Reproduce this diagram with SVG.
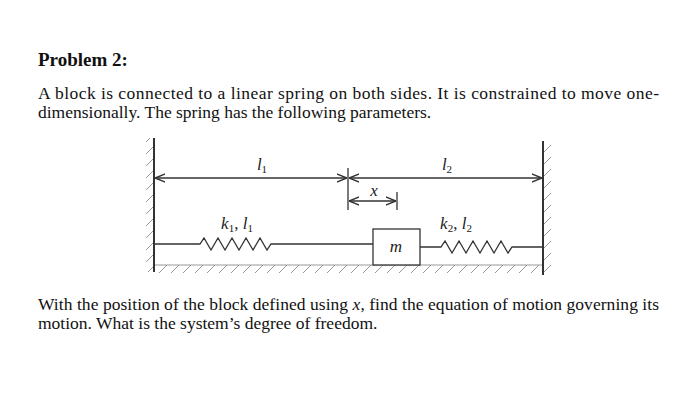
<svg xmlns="http://www.w3.org/2000/svg" width="700" height="401" viewBox="0 0 700 401">
<defs>
<style>
.t{font-family:"Liberation Serif",serif;font-size:17.5px;fill:#111}
.m{font-family:"Liberation Serif",serif;font-style:italic;font-size:17px;fill:#222}
.w{stroke:#333;stroke-width:2;fill:none}
.l{stroke:#333;stroke-width:1.3;fill:none}
.h{stroke:#999;stroke-width:1}
</style>
<marker id="a" viewBox="0 0 10 10" refX="10" refY="5" markerWidth="8" markerHeight="8" orient="auto-start-reverse"><path d="M0,1 L10,5 L0,9" fill="none" stroke="#333" stroke-width="1.5"/></marker>
<pattern id="hl" width="12" height="12" patternUnits="userSpaceOnUse"><path d="M0,12 L12,0" class="h"/></pattern>
</defs>
<rect width="700" height="401" fill="#fff"/>
<text x="38" y="66" style="font-family:'Liberation Serif',serif;font-weight:bold;font-size:19px;fill:#111">Problem 2:</text>
<text class="t" x="38" y="99" textLength="621" lengthAdjust="spacing">A block is connected to a linear spring on both sides.  It is constrained to move one-</text>
<text class="t" x="38" y="118">dimensionally.  The spring has the following parameters.</text>
<text class="t" x="38" y="310" textLength="621" lengthAdjust="spacing">With the position of the block defined using <tspan font-style="italic">x</tspan>, find the equation of motion governing its</text>
<text class="t" x="38" y="329">motion.  What is the system’s degree of freedom.</text>
<g id="ground"><rect x="154" y="265" width="389" height="8" fill="url(#hl)"/><line x1="154" y1="265" x2="543" y2="265" class="h"/></g>
<g id="leftwall"><rect x="146" y="138" width="8" height="134" fill="url(#hl)"/><line x1="154" y1="138" x2="154" y2="272" class="w"/></g>
<g id="rightwall"><rect x="543" y="141" width="8" height="134" fill="url(#hl)"/><line x1="543" y1="141" x2="543" y2="275" class="w"/></g>
<g id="block"><rect x="373" y="229" width="47" height="36" fill="#fff" stroke="#333" stroke-width="1.3"/><text class="m" x="396" y="252" text-anchor="middle">m</text></g>
<g id="connectors">
<polyline class="l" points="154,244 200,244 204,238 211,250 218,238 225,250 232,238 239,250 246,238 253,250 260,238 267,250 271,244 373,244"/>
<polyline class="l" points="420,247 441,247 445,241 452,253 459,241 466,253 473,241 480,253 487,241 494,253 501,241 508,253 512,247 543,247"/>
<line x1="348" y1="168" x2="348" y2="210" class="l"/>
<line x1="397" y1="192" x2="397" y2="210" class="l"/>
<line x1="155" y1="178" x2="347" y2="178" class="l" marker-start="url(#a)" marker-end="url(#a)"/>
<line x1="349" y1="178" x2="542" y2="178" class="l" marker-start="url(#a)" marker-end="url(#a)"/>
<line x1="349" y1="201" x2="396" y2="201" class="l" marker-start="url(#a)" marker-end="url(#a)"/>
</g>
<g id="labels">
<text class="m" x="262" y="170" text-anchor="middle">l<tspan font-size="11" dy="3" font-style="normal">1</tspan></text>
<text class="m" x="447" y="170" text-anchor="middle">l<tspan font-size="11" dy="3" font-style="normal">2</tspan></text>
<text class="m" x="374" y="196" text-anchor="middle">x</text>
<text class="m" x="237" y="229" text-anchor="middle">k<tspan font-size="11" dy="3" font-style="normal">1</tspan><tspan dy="-3" font-style="normal">, </tspan>l<tspan font-size="11" dy="3" font-style="normal">1</tspan></text>
<text class="m" x="456" y="229" text-anchor="middle">k<tspan font-size="11" dy="3" font-style="normal">2</tspan><tspan dy="-3" font-style="normal">, </tspan>l<tspan font-size="11" dy="3" font-style="normal">2</tspan></text>
</g>
</svg>
